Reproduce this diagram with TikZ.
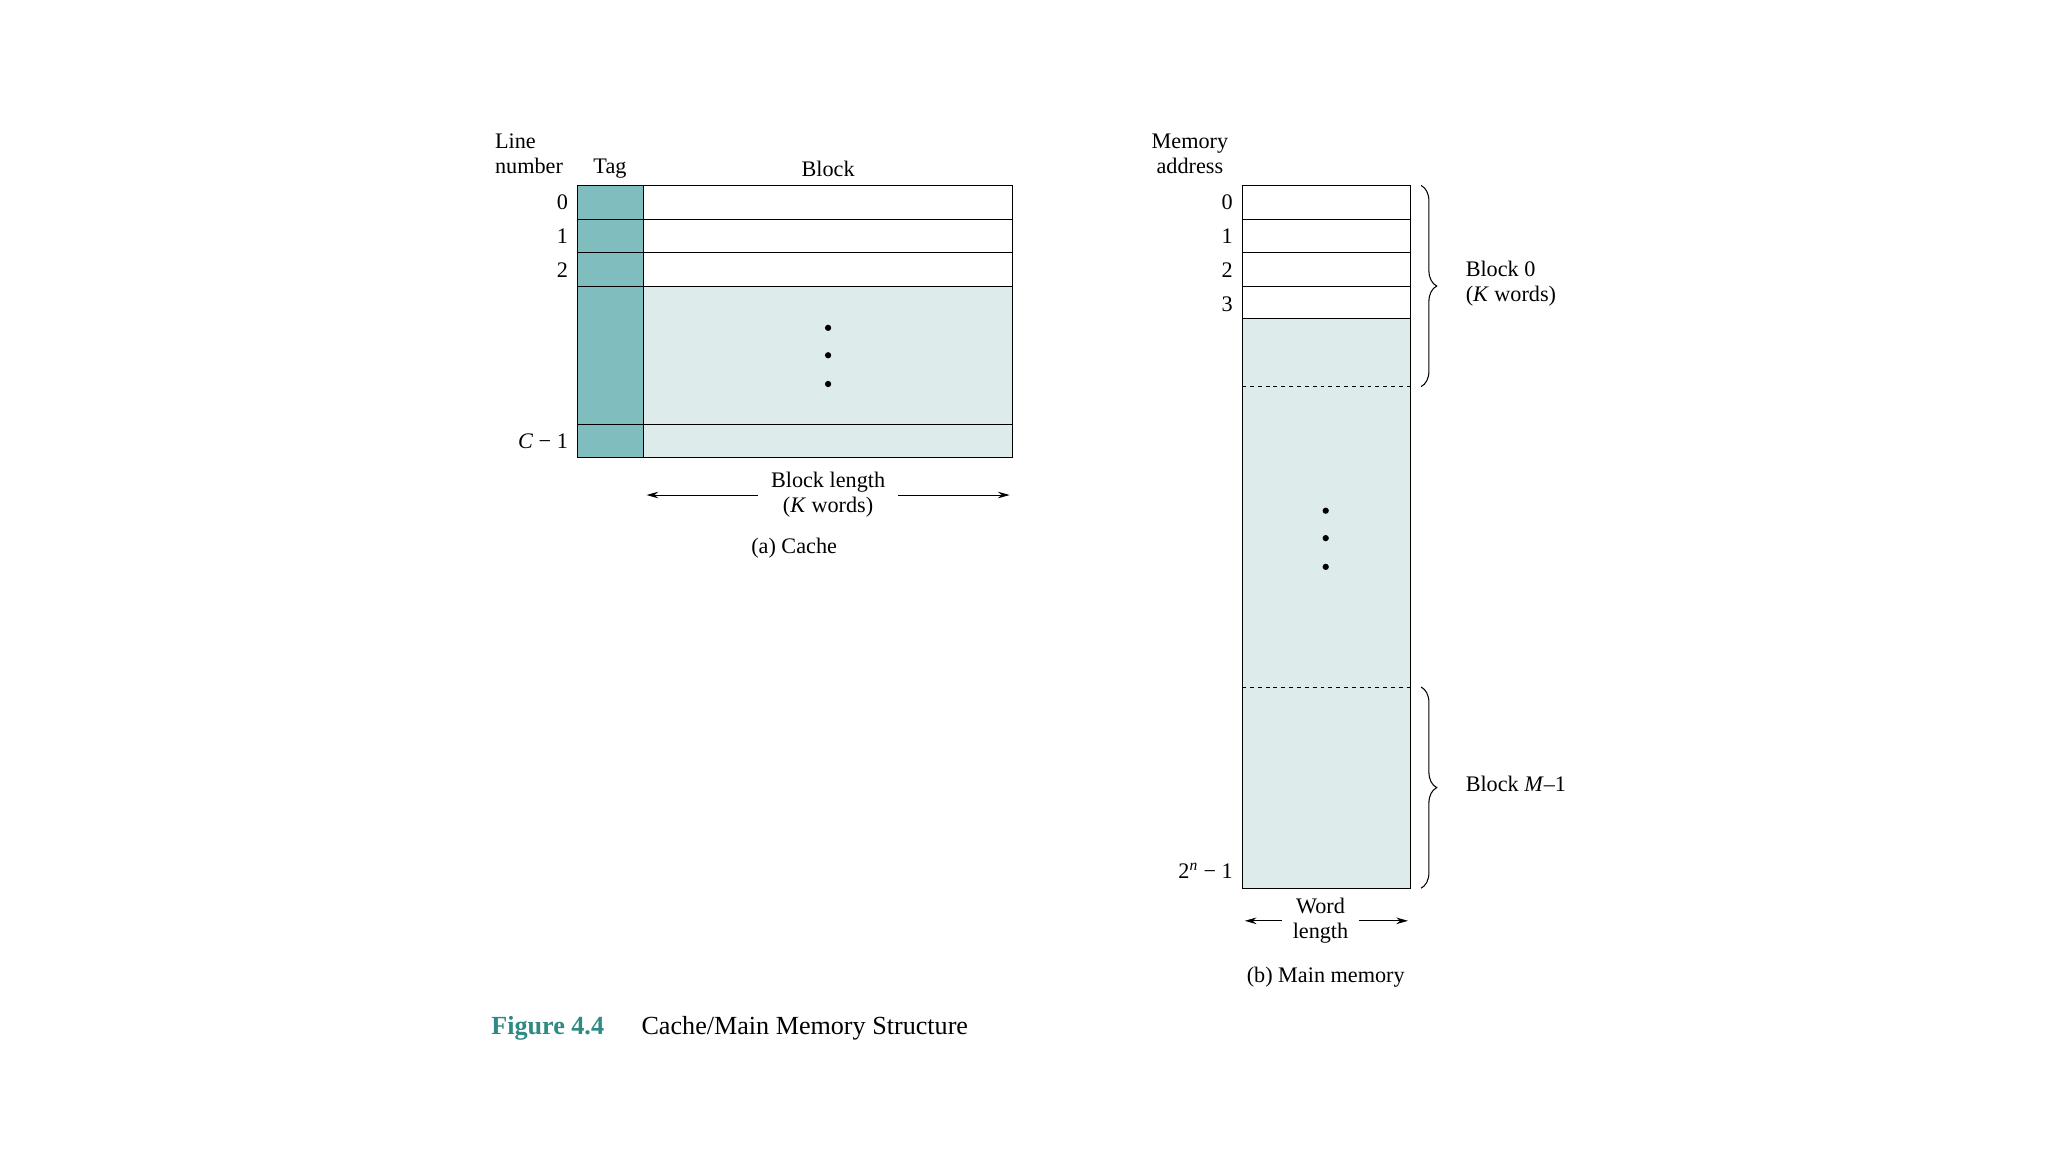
\documentclass[tikz,border=0pt]{standalone}
\usepackage{fontspec}
\setmainfont{Liberation Serif}
\usetikzlibrary{decorations.pathreplacing,arrows.meta}
\definecolor{tagc}{HTML}{7FBDBE}
\definecolor{lite}{HTML}{DDEBEA}
\definecolor{figc}{HTML}{2E8B84}
\begin{document}
\begin{tikzpicture}[x=1pt,y=-1pt,
  lbl/.style={font=\fontsize{17}{19}\selectfont,inner sep=0pt},
  rl/.style={lbl,anchor=east},
  cell/.style={draw,line width=0.8pt},
  arr/.style={-{Stealth[length=9pt,width=5pt]},line width=0.7pt},
  br/.style={decorate,decoration={brace,amplitude=12pt},line width=0.8pt},
  dot/.style={circle,fill,inner sep=1.7pt}]
\path[fill=white,use as bounding box] (0,0) rectangle (1568,882);
% cache
\fill[tagc] (442,142) rectangle (493,350);
\fill[lite] (493,219) rectangle (775,350);
\foreach \y in {142,168,193,219,325}{\draw[line width=0.8pt] (442,\y) -- (775,\y);}
\draw[cell] (442,142) rectangle (775,350);
\draw[line width=0.8pt] (493,142) -- (493,350);
\node[lbl,align=left] (ln) at (405,118) {Line\\number};
\node[lbl] (tg) at (467,129) {Tag};
\node[lbl] (bk) at (634,129) {Block};
\node[rl] (c0) at (435,155) {0};
\node[rl] (c1) at (435,181) {1};
\node[rl] (c2) at (435,207) {2};
\node[rl] (cc) at (435,338) {\textit{C} − 1};
\foreach \y in {251,272,294}{\node[dot] at (634,\y) {};}
\node[lbl,align=center] (bl) at (634,379) {Block length\\(\textit{K} words)};
\coordinate (a1) at (495,379); \coordinate (a2) at (773,379);
\draw[arr] (bl.west) ++(-10,0) -- (a1);
\draw[arr] (bl.east) ++(10,0) -- (a2);
\node[lbl] (ca) at (608,420) {(a) Cache};
% memory
\fill[lite] (951,244) rectangle (1080,680);
\foreach \y in {168,193,219,244}{\draw[line width=0.8pt] (951,\y) -- (1080,\y);}
\draw[cell] (951,142) rectangle (1080,680);
\draw[dashed,line width=0.8pt] (951,296) -- (1080,296);
\draw[dashed,line width=0.8pt] (951,526) -- (1080,526);
\node[lbl,align=center] (ma) at (911,118) {Memory\\address};
\node[rl] (m0) at (944,155) {0};
\node[rl] (m1) at (944,181) {1};
\node[rl] (m2) at (944,207) {2};
\node[rl] (m3) at (944,233) {3};
\node[rl] (mn) at (944,667) {2\textsuperscript{\textit{n}} − 1};
\foreach \y in {391,412,434}{\node[dot] at (1015,\y) {};}
\draw[br] (1088,142) -- (1088,296);
\draw[br] (1088,526) -- (1088,680);
\node[lbl,anchor=west,align=left] (b0) at (1122,217) {Block 0\\(\textit{K} words)};
\node[lbl,anchor=west] (bm) at (1122,600) {Block \textit{M}–1};
\node[lbl,align=center] (wl) at (1011,705) {Word\\length};
\coordinate (w1) at (953,705); \coordinate (w2) at (1078,705);
\draw[arr] (wl.west) ++(-8,0) -- (w1);
\draw[arr] (wl.east) ++(8,0) -- (w2);
\node[lbl] (mm) at (1015,748) {(b) Main memory};
% caption
\node[anchor=west,inner sep=0pt,font=\fontsize{20}{22}\selectfont\bfseries,text=figc] (f1) at (376,787) {Figure 4.4};
\node[anchor=west,inner sep=0pt,font=\fontsize{20}{22}\selectfont] (f2) at (491,787) {Cache/Main Memory Structure};
\end{tikzpicture}
\end{document}
